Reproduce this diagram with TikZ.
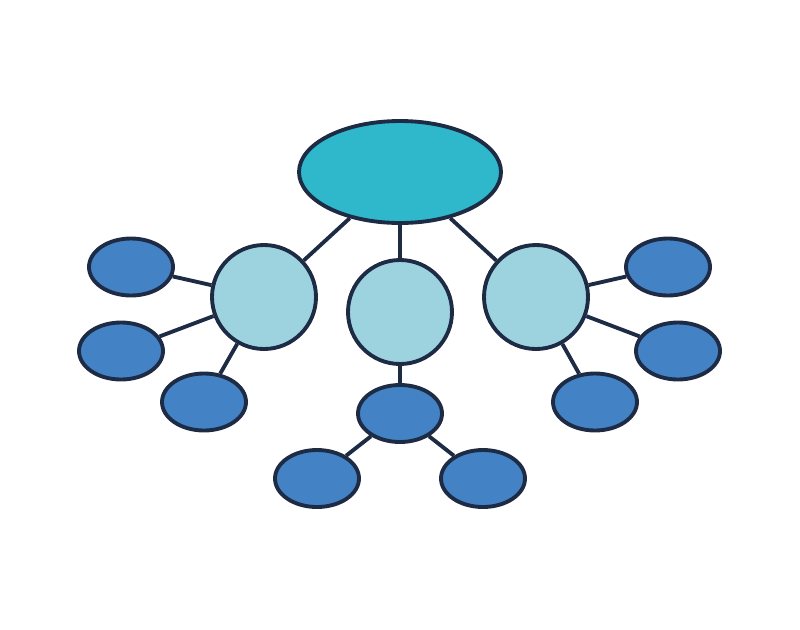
\documentclass[tikz,border=0pt]{standalone}
\usepackage{tikz}
\usetikzlibrary{shapes.geometric}

\definecolor{outline}{HTML}{1E2B45}
\definecolor{rootfill}{HTML}{2FB8CB}
\definecolor{hubfill}{HTML}{9DD3DF}
\definecolor{leaffill}{HTML}{4282C5}

\tikzset{
  root/.style={ellipse, draw=outline, fill=rootfill, line width=2.2pt, minimum width=4.04cm, minimum height=2.04cm},
  hub/.style={circle, draw=outline, fill=hubfill, line width=2.2pt, minimum size=2.08cm},
  leaf/.style={ellipse, draw=outline, fill=leaffill, line width=2.2pt, minimum width=1.68cm, minimum height=1.14cm},
  link/.style={draw=outline, line width=2.2pt}
}

\begin{document}
\begin{tikzpicture}
        \useasboundingbox (0,0) rectangle (16,-12.58);
        \node[root] (top) at (8,-3.44) {};
        \node[hub] (hubleft) at (5.28,-5.94) {};
        \node[hub] (hubmiddle) at (8,-6.24) {};
        \node[hub] (hubright) at (10.72,-5.94) {};
        \node[leaf] (leftone) at (2.62,-5.34) {};
        \node[leaf] (lefttwo) at (2.42,-7.02) {};
        \node[leaf] (leftthree) at (4.08,-8.04) {};
        \node[leaf] (rightone) at (13.36,-5.34) {};
        \node[leaf] (righttwo) at (13.56,-7.02) {};
        \node[leaf] (rightthree) at (11.9,-8.04) {};
        \node[leaf] (under) at (8,-8.27) {};
        \node[leaf] (underleft) at (6.34,-9.57) {};
        \node[leaf] (underright) at (9.66,-9.57) {};
        \draw[link] (hubleft) -- (top) -- (hubmiddle) (top) -- (hubright);
        \draw[link] (leftone) -- (hubleft) -- (lefttwo) (hubleft) -- (leftthree);
        \draw[link] (rightone) -- (hubright) -- (righttwo) (hubright) -- (rightthree);
        \draw[link] (hubmiddle) -- (under) -- (underleft) (under) -- (underright);
    \end{tikzpicture}
\end{document}
